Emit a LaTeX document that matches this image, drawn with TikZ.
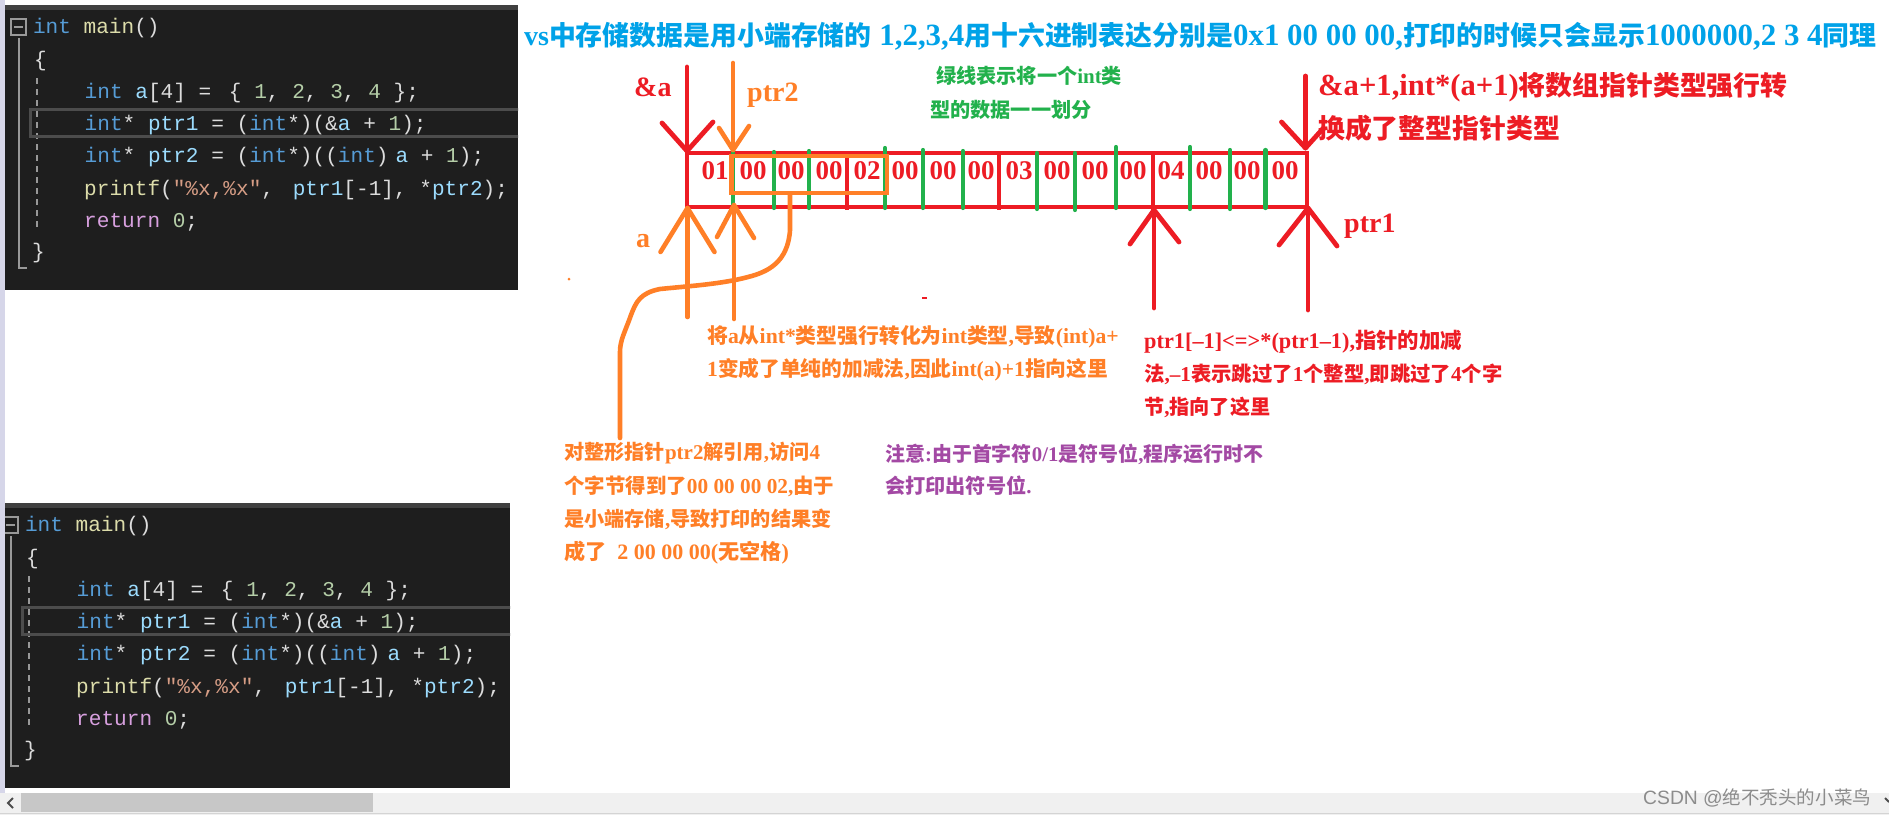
\documentclass[tikz,border=0pt]{standalone}
\usepackage{fontspec}
\setmainfont{Liberation Serif}
\setmonofont{Liberation Mono}
\newfontfamily\cjk[Scale=0.96]{Noto Sans CJK SC}
\newfontfamily\marksans{Liberation Sans}
\newcommand{\zh}[1]{{\cjk #1}}
\newcommand{\zhat}[2]{{\fontsize{#1}{#1}\selectfont\cjk #2}}

\definecolor{inkred}{HTML}{ED1C24}
\definecolor{inkorange}{HTML}{FF7F27}
\definecolor{inkgreen}{HTML}{22B14C}
\definecolor{inkblue}{HTML}{00A2E8}
\definecolor{inkpurple}{HTML}{A349A4}
\definecolor{codebg}{HTML}{1E1E1E}
\definecolor{codekey}{HTML}{569CD6}
\definecolor{codeid}{HTML}{9CDCFE}
\definecolor{codefn}{HTML}{DCDCAA}
\definecolor{codenum}{HTML}{B5CEA8}
\definecolor{codestr}{HTML}{D69D85}
\definecolor{coderet}{HTML}{D8A0DF}
\definecolor{codetxt}{HTML}{DCDCDC}

\newcommand{\cKw}[1]{\textcolor{codekey}{#1}}
\newcommand{\cId}[1]{\textcolor{codeid}{#1}}
\newcommand{\cFn}[1]{\textcolor{codefn}{#1}}
\newcommand{\cNum}[1]{\textcolor{codenum}{#1}}
\newcommand{\cStr}[1]{\textcolor{codestr}{#1}}

\tikzset{
  redline/.style={inkred,line width=4.8pt,line cap=round,line join=round},
  orangeline/.style={inkorange,line width=4.6pt,line cap=round,line join=round},
  greenline/.style={inkgreen,line width=4.2pt,line cap=round},
  codeline/.style={anchor=base west,inner sep=0pt,text=codetxt,font=\ttfamily\fontsize{21.1}{24}\selectfont},
  note/.style={anchor=base west,inner sep=0pt,font=\bfseries\fontsize{21}{24}\selectfont},
  big/.style={anchor=base west,inner sep=0pt,font=\bfseries\fontsize{28}{32}\selectfont},
  cell/.style={anchor=base,inner sep=0pt,text=inkred,font=\bfseries\fontsize{27}{30}\selectfont},
}

% one code window: shift x, shift y, right edge
\newcommand{\codepanel}[3]{
\begin{scope}
\clip (5,#2+5) rectangle (#3,#2+290);
\fill[codebg] (5,#2+5) rectangle (#3,#2+290);
\fill[black!75] (5,#2+5) rectangle (#3,#2+10);
\begin{scope}[shift={(#1,#2)}]
\draw[gray!80,line width=2pt] (11,19) rectangle (26,35);
\draw[gray!80,line width=2pt] (14,27) -- (23,27);
\draw[gray!80,line width=2pt] (18.6,38) -- (18.6,268) -- (27,268);
\draw[gray!80,line width=2pt,dash pattern=on 6pt off 5pt] (36.8,78) -- (36.8,230);
\draw[black!70,line width=3pt] (560,109) -- (30,109) -- (30,136) -- (560,136);
\node[codeline] (#1main) at (32.8,33.5) {\cKw{int} \cFn{main}()};
\node[codeline] (#1open) at (34,66) {\{};
\node[codeline] (#1arr) at (84.5,98.5) {\cKw{int} \cId{a}[4] = \hspace{5pt}\{ \cNum{1}, \cNum{2}, \cNum{3}, \cNum{4} \};};
\node[codeline] (#1one) at (84.5,130.7) {\cKw{int}* \cId{ptr1} = (\cKw{int}*)(\&\cId{a} + \cNum{1});};
\node[codeline] (#1two) at (84.5,162.7) {\cKw{int}* \cId{ptr2} = (\cKw{int}*)((\cKw{int})\hspace{7pt}\cId{a} + \cNum{1});};
\node[codeline] (#1print) at (84,195) {\cFn{printf}(\cStr{″\%x,\%x″},\hspace{6pt} \cId{ptr1}[-1], *\cId{ptr2});};
\node[codeline] (#1ret) at (84,227.7) {\textcolor{coderet}{return} \cNum{0};};
\node[codeline] (#1close) at (32,258) {\}};
\end{scope}
\end{scope}
}

\begin{document}
\begin{tikzpicture}[x=1pt,y=-1pt]
\useasboundingbox (0,0) rectangle (1889,815);
\fill[white] (0,0) rectangle (1889,815);
\fill[blue!30!gray!25] (0,0) rectangle (5,793);

% code windows
\codepanel{0}{0}{518}
\codepanel{-8}{498}{510}

% scroll bar
\fill[black!6] (0,793) rectangle (1889,815);
\fill[black!22] (21,793) rectangle (373,812);
\draw[black!17,line width=1pt] (0,813.5) -- (1889,813.5);
\draw[black!70,line width=1.8pt] (13,798) -- (8,803) -- (13,808);
\draw[black!70,line width=1.8pt] (1885,798) -- (1889,802);
\node[anchor=base west,inner sep=0pt,text=black!45,font=\marksans\fontsize{19.3}{22}\selectfont] (mark) at (1643,804) {CSDN @\zh{绝不秃头的小菜鸟}};

% title
\node[big,text=inkblue,font=\bfseries\fontsize{30.9}{32}\selectfont] (title) at (524,45) {{\fontsize{28}{32}\selectfont vs}\zhat{28}{中存储数据是用小端存储的} 1,2,3,4\zhat{28}{用十六进制表达分别是}0x1 00 00 00,\zhat{28}{打印的时候只会显示}1000000,2 3 4\zhat{28}{同理}};

% memory row
\draw[redline,line cap=butt,line join=miter] (687,153) rectangle (1307,207);
\foreach \x in {847,999,1153}
  \draw[inkred,line width=4.8pt] (\x,153) -- (\x,210);
\foreach \x/\t/\b in {733/152/208,774/152/208,809/151/208,885/148/208,923/150/208,963/151/208,1037/153/209,1075/153/210,1116/147/208,1190/147/209,1230/150/209,1265.5/150/208}
  \draw[greenline] (\x,\t) -- (\x,\b);
\foreach \val [count=\i from 0] in {01,00,00,00,02,00,00,00,03,00,00,00,04,00,00,00}
  \node[cell] (cell\i) at ({715+38*\i},179) {\val};
\draw[inkorange,line width=4.8pt] (731.5,156) rectangle (887,193);

% pointers
\coordinate (tipaddr) at (687,151);
\coordinate (tipptrtwo) at (733,150);
\coordinate (tipa) at (687.5,208);
\coordinate (tipint) at (734,205);
\coordinate (tipback) at (1154,210);
\coordinate (tipend) at (1305.5,148);
\coordinate (tipptrone) at (1308,208);
\draw[redline] (687,67) -- (tipaddr);
\draw[redline] (tipaddr) ++(-25,-28) -- (tipaddr) -- ++(26,-29);
\draw[orangeline] (733,63) -- (tipptrtwo);
\draw[orangeline] (tipptrtwo) ++(-14,-22) -- (tipptrtwo) -- ++(16,-24);
\draw[orangeline] (tipa) -- (687.5,317);
\draw[orangeline] (tipa) ++(-27,44) -- (tipa) -- ++(27,44);
\draw[orangeline] (tipint) -- (734,319);
\draw[orangeline] (tipint) ++(-17,32) -- (tipint) -- ++(20,33);
\draw[redline] (tipback) -- (1154,308);
\draw[redline] (tipback) ++(-24,34) -- (tipback) -- ++(25,32);
\draw[redline] (tipend) -- (1305.5,76);
\draw[redline] (tipend) ++(-24,-26) -- (tipend) -- ++(18,-20);
\draw[redline] (tipptrone) -- (1308,310);
\draw[redline] (tipptrone) ++(-29,37) -- (tipptrone) -- ++(29,38);

% line from the orange box down to its note
\draw[orangeline] (790,195) -- (790,230) .. controls (788,262) and (768,272) .. (748,277)
  .. controls (722,284) and (690,286) .. (660,289) .. controls (640,293) and (636,302) .. (631,315)
  .. controls (625,332) and (620,340) .. (620,352) -- (620,438);

% stray specks
\fill[inkorange] (569,279) circle (1.5);
\fill[inkred] (922,296.5) rectangle (927,298.5);

% labels
\node[big,text=inkred] (addr) at (634,96) {\&a};
\node[big,text=inkorange] (ptrtwo) at (747,101) {ptr2};
\node[big,text=inkorange] (aname) at (636,247) {a};
\node[big,text=inkred] (ptrone) at (1344,232) {ptr1};

\node[note,text=inkgreen] (greenone) at (936,83) {\zh{绿线表示将一个}int\zh{类}};
\node[note,text=inkgreen] (greentwo) at (930,117) {\zh{型的数据一一划分}};

\node[big,text=inkred,font=\bfseries\fontsize{30.6}{32}\selectfont] (endone) at (1318,95) {\&a+1,int*(a+1)\zhat{28}{将数组指针类型强行转}};
\node[big,text=inkred] (endtwo) at (1318,138) {\zh{换成了整型指针类型}};

\node[note,text=inkorange,font=\bfseries\fontsize{21.7}{24}\selectfont] (castone) at (707,343) {\zh{将}a\zh{从}int*\zh{类型强行转化为}int\zh{类型},\zh{导致}(int)a+};
\node[note,text=inkorange,font=\bfseries\fontsize{21.6}{24}\selectfont] (casttwo) at (707,376) {1\zh{变成了单纯的加减法},\zh{因此}int(a)+1\zh{指向这里}};

\node[note,text=inkred,font=\bfseries\fontsize{22.3}{24}\selectfont] (backone) at (1144,348) {ptr1[–1]<=>*(ptr1–1),\zh{指针的加减}};
\node[note,text=inkred,font=\bfseries\fontsize{21.2}{24}\selectfont] (backtwo) at (1144,381) {\zh{法},–1\zh{表示跳过了}1\zh{个整型},\zh{即跳过了}4\zh{个字}};
\node[note,text=inkred] (backthree) at (1144,414) {\zh{节},\zh{指向了这里}};

\node[note,text=inkorange] (derefone) at (564,459) {\zh{对整形指针}ptr2\zh{解引用},\zh{访问}4};
\node[note,text=inkorange,font=\bfseries\fontsize{21.3}{24}\selectfont] (dereftwo) at (564,493) {\zh{个字节得到了}00 00 00 02,\zh{由于}};
\node[note,text=inkorange] (derefthree) at (564,526) {\zh{是小端存储},\zh{导致打印的结果变}};
\node[note,text=inkorange,font=\bfseries\fontsize{22}{24}\selectfont] (dereffour) at (564,559) {\zh{成了}\ \ 2 00 00 00(\zh{无空格})};

\node[note,text=inkpurple,font=\bfseries\fontsize{20.8}{24}\selectfont] (signone) at (885,461) {\zh{注意}:\zh{由于首字符}0/1\zh{是符号位},\zh{程序运行时不}};
\node[note,text=inkpurple] (signtwo) at (885,493) {\zh{会打印出符号位}.};

\end{tikzpicture}
\end{document}
